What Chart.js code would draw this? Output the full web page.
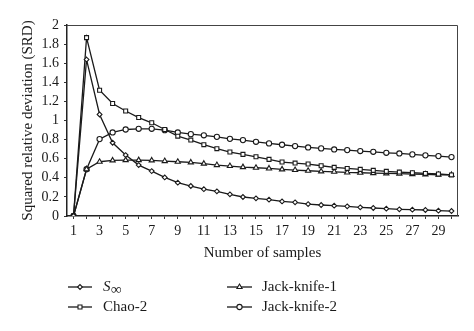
<!DOCTYPE html>
<html>
<head>
<meta charset="utf-8">
<script src="https://cdn.jsdelivr.net/npm/chart.js@4/dist/chart.umd.min.js"></script>
<style>
html,body{margin:0;padding:0;background:#fff;}
canvas{display:block;}
</style>
</head>
<body>
<canvas id="c" width="474" height="331"></canvas>
<script>
const samples = ['1','2','3','4','5','6','7','8','9','10','11','12','13','14','15','16','17','18','19','20','21','22','23','24','25','26','27','28','29','30'];
const sInf  = [0, 1.638, 1.063, 0.767, 0.638, 0.533, 0.470, 0.404, 0.349, 0.314, 0.281, 0.258, 0.227, 0.199, 0.185, 0.171, 0.153, 0.143, 0.125, 0.115, 0.108, 0.101, 0.091, 0.084, 0.077, 0.070, 0.066, 0.063, 0.056, 0.052];
const chao2 = [0, 1.868, 1.317, 1.178, 1.099, 1.031, 0.976, 0.906, 0.836, 0.795, 0.747, 0.705, 0.670, 0.645, 0.620, 0.593, 0.565, 0.554, 0.544, 0.526, 0.509, 0.498, 0.488, 0.478, 0.467, 0.460, 0.453, 0.446, 0.440, 0.430];
const jk1   = [0, 0.490, 0.568, 0.582, 0.585, 0.585, 0.582, 0.575, 0.568, 0.561, 0.548, 0.533, 0.523, 0.512, 0.505, 0.498, 0.488, 0.481, 0.474, 0.467, 0.463, 0.456, 0.453, 0.449, 0.446, 0.443, 0.439, 0.436, 0.432, 0.430];
const jk2   = [0, 0.490, 0.805, 0.875, 0.906, 0.913, 0.913, 0.899, 0.875, 0.857, 0.845, 0.829, 0.808, 0.795, 0.777, 0.760, 0.746, 0.732, 0.718, 0.708, 0.697, 0.690, 0.680, 0.672, 0.662, 0.655, 0.645, 0.635, 0.627, 0.617];
const yTickLabels = ['0','0.2','0.4','0.6','0.8','1','1.2','1.4','1.6','1.8','2'];
const seriesNames = ['S∞','Chao-2','Jack-knife-1','Jack-knife-2'];

const FONT = "'Liberation Serif', 'DejaVu Serif', serif";
const INK = '#1a1a1a';

function ds(label, data, style, r) {
  return {
    label, data,
    borderColor: INK, borderWidth: 1.3,
    pointStyle: style, pointRadius: r, pointHoverRadius: r,
    pointBackgroundColor: '#fff', pointBorderColor: INK, pointBorderWidth: 1.1,
    tension: 0, fill: false
  };
}

const boxPlugin = {
  id: 'box',
  afterDraw(chart) {
    const {ctx, chartArea: a} = chart;
    ctx.save();
    ctx.strokeStyle = '#444';
    ctx.lineWidth = 1;
    ctx.beginPath();
    ctx.moveTo(a.left, a.top + 0.5);
    ctx.lineTo(a.right - 0.5, a.top + 0.5);
    ctx.lineTo(a.right - 0.5, a.bottom);
    ctx.stroke();
    ctx.restore();
  }
};

const legendPlugin = {
  id: 'gridLegend',
  afterDraw(chart) {
    const {ctx} = chart;
    const cols = [{x0: 68, x1: 92, tx: 103}, {x0: 227, x1: 252, tx: 262}];
    const rows = [287, 307];
    const order = [[0,0],[1,0],[0,1],[1,1]]; // dataset index -> [row, col]
    ctx.save();
    chart.data.datasets.forEach((d, i) => {
      const [ri, ci] = order[i];
      const c = cols[ci], y = rows[ri];
      ctx.strokeStyle = INK;
      ctx.lineWidth = 1.3;
      ctx.beginPath();
      ctx.moveTo(c.x0, y); ctx.lineTo(c.x1, y); ctx.stroke();
      ctx.fillStyle = '#fff';
      ctx.lineWidth = 1.1;
      Chart.helpers.drawPoint(ctx, {pointStyle: d.pointStyle, radius: d.pointRadius, borderWidth: 1.1}, (c.x0 + c.x1) / 2, y);
      ctx.fillStyle = INK;
      ctx.textBaseline = 'middle';
      ctx.textAlign = 'left';
      if (d.label === 'S∞') {
        ctx.font = 'italic 15px ' + FONT;
        ctx.fillText('S', c.tx, y);
        const w = ctx.measureText('S').width;
        ctx.font = '15px ' + FONT;
        ctx.fillText('∞', c.tx + w + 0.5, y + 3);
      } else {
        ctx.font = '15px ' + FONT;
        ctx.fillText(d.label, c.tx, y);
      }
    });
    ctx.restore();
  }
};

new Chart(document.getElementById('c'), {
  type: 'line',
  data: {
    labels: samples,
    datasets: [
      ds(seriesNames[0], sInf, 'rectRot', 2.4),
      ds(seriesNames[1], chao2, 'rect', 2.8),
      ds(seriesNames[2], jk1, 'triangle', 3),
      ds(seriesNames[3], jk2, 'circle', 2.6)
    ]
  },
  options: {
    responsive: false,
    animation: false,
    events: [],
    layout: {padding: {left: 0, right: 16, top: 25, bottom: 65}},
    plugins: {legend: {display: false}, tooltip: {enabled: false}},
    scales: {
      x: {
        type: 'category',
        offset: true,
        afterFit(s) { s.height = 50; },
        grid: {display: true, drawOnChartArea: false, drawTicks: true, tickLength: 3, color: '#333', offset: false},
        border: {display: true, color: '#222', width: 1.5},
        ticks: {
          autoSkip: false, maxRotation: 0, padding: 4, color: INK,
          font: {family: FONT, size: 14},
          callback(v, i) { return (i % 2 === 0) ? samples[i] : ''; }
        },
        title: {display: true, text: 'Number of samples', color: INK, font: {family: FONT, size: 15}, padding: {top: 4, bottom: 4}}
      },
      y: {
        min: 0, max: 2,
        afterFit(s) { s.width = 67; },
        grid: {display: true, drawOnChartArea: false, drawTicks: true, tickLength: 3, color: '#333'},
        border: {display: true, color: '#222', width: 1.5},
        ticks: {
          stepSize: 0.2, autoSkip: false, padding: 5, color: INK,
          font: {family: FONT, size: 14},
          callback(v) { return yTickLabels[Math.round(v / 0.2)]; }
        },
        title: {display: true, text: 'Squared relative deviation (SRD)', color: INK, font: {family: FONT, size: 15}, padding: {top: 19, bottom: 4}}
      }
    }
  },
  plugins: [boxPlugin, legendPlugin]
});
</script>
</body>
</html>
